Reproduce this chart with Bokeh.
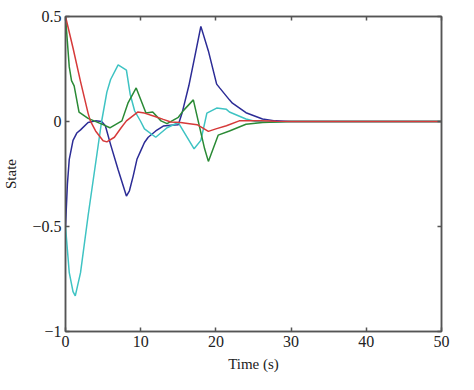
from bokeh.plotting import figure
from bokeh.models import Range1d, FixedTicker, LinearAxis
from bokeh.embed import file_html
from bokeh.resources import INLINE

# ---- data ----
t_blue = [0, 0.25, 0.5, 1, 1.5, 2, 3, 4, 4.8, 5.3, 6, 7, 8.1, 8.5, 9, 9.5, 10, 10.5, 11, 12, 13, 14, 15, 15.5,
          16.4, 17.2, 18, 19, 20.1, 20.5, 21.8, 22.2, 24, 26.2, 27.9, 30, 35, 50]
y_blue = [-0.5, -0.3, -0.18, -0.09, -0.055, -0.04, -0.005, 0.003, 0.0, -0.02, -0.11, -0.23, -0.355, -0.33, -0.26,
          -0.18, -0.14, -0.1, -0.075, -0.045, -0.022, -0.018, -0.015, 0.04,
          0.17, 0.31, 0.453, 0.336, 0.178, 0.16, 0.103, 0.087, 0.042, 0.012, 0.003, 0.0, 0.0, 0.0]

t_cyan = [0, 0.5, 1, 1.3, 2, 3, 4, 4.8, 5.5, 6, 7, 8.1, 8.6, 9.2, 10, 10.5, 12, 13.5, 15, 17.1, 18, 18.8, 20.1,
          21.4, 21.8, 24, 25.3, 27, 30, 50]
y_cyan = [-0.5, -0.72, -0.81, -0.83, -0.72, -0.45, -0.2, 0.0, 0.14, 0.2, 0.27, 0.245, 0.13, 0.05, 0.0, -0.035,
          -0.075, -0.03, -0.005, -0.13, -0.09, 0.04, 0.064, 0.058, 0.045, 0.012, 0.0, -0.003, 0.0, 0.0]

t_green = [0, 0.5, 0.8, 1.15, 1.8, 3, 3.8, 5, 5.9, 7.5, 8.3, 9.4, 10.7, 11.6, 12.7, 13.5, 15, 15.7, 17, 18.5,
           19, 20.3, 21.8, 24, 26.2, 28, 30, 50]
y_green = [0.5, 0.26, 0.195, 0.17, 0.045, 0.015, 0.003, -0.015, -0.03, 0.003, 0.087, 0.16, 0.04, 0.045, 0.003,
           -0.01, 0.02, 0.053, 0.103, -0.13, -0.19, -0.065, -0.045, -0.013, -0.005, -0.002, 0.0, 0.0]

t_red = [0, 1, 2, 3, 3.3, 4, 5, 5.5, 6.5, 7.4, 8.1, 9.6, 10.5, 11.8, 13, 14, 15.3, 16, 17.5, 19, 20, 21.4, 23.1,
         26, 28, 30, 50]
y_red = [0.5, 0.35, 0.19, 0.04, 0.003, -0.045, -0.092, -0.097, -0.075, -0.03, 0.003, 0.045, 0.04, 0.025, 0.01,
         -0.002, -0.005, -0.008, -0.015, -0.047, -0.035, -0.02, 0.003, 0.003, 0.001, 0.0, 0.0]

x_ticks = [0, 10, 20, 30, 40, 50]
y_ticks = [-1, -0.5, 0, 0.5]
y_tick_labels = {-1: "\u22121", -0.5: "\u22120.5", 0: "0", 0.5: "0.5"}

FONT = "Liberation Serif"
AXC = "#555555"

p = figure(width=458, height=374, output_backend="svg", toolbar_location=None,
           x_range=Range1d(0, 50), y_range=Range1d(-1, 0.5),
           min_border_left=58, min_border_right=17, min_border_top=16, min_border_bottom=40)
p.grid.visible = False
p.outline_line_color = AXC
p.outline_line_width = 1.5
p.background_fill_color = "white"
p.border_fill_color = "white"

p.line(t_blue, y_blue, line_color="#2c2c96", line_width=1.5)
p.line(t_cyan, y_cyan, line_color="#3ec3c3", line_width=1.5)
p.line(t_green, y_green, line_color="#2a8a35", line_width=1.5)
p.line(t_red, y_red, line_color="#d63a3a", line_width=1.5)

xa = p.xaxis[0]
xa.ticker = FixedTicker(ticks=x_ticks)
xa.axis_label = "Time (s)"
ya = p.yaxis[0]
ya.ticker = FixedTicker(ticks=y_ticks)
ya.major_label_overrides = y_tick_labels
ya.axis_label = "State"

for ax in (xa, ya):
    ax.axis_line_color = AXC
    ax.axis_line_width = 1.5
    ax.major_tick_line_color = AXC
    ax.major_tick_line_width = 1.5
    ax.major_tick_in = 4
    ax.major_tick_out = 0
    ax.minor_tick_line_color = None
    ax.major_label_text_font = FONT
    ax.major_label_text_font_size = "16px"
    ax.major_label_text_color = "#222222"
    ax.axis_label_text_font = FONT
    ax.axis_label_text_font_size = "15px"
    ax.axis_label_text_font_style = "normal"
    ax.axis_label_text_color = "#222222"
    ax.major_label_standoff = 4
xa.axis_label_standoff = 6
ya.axis_label_standoff = 10

top = LinearAxis(ticker=FixedTicker(ticks=x_ticks))
right = LinearAxis(ticker=FixedTicker(ticks=y_ticks))
for ax in (top, right):
    ax.axis_line_color = AXC
    ax.axis_line_width = 1.5
    ax.major_tick_line_color = AXC
    ax.major_tick_line_width = 1.5
    ax.major_tick_in = 4
    ax.major_tick_out = 0
    ax.minor_tick_line_color = None
    ax.major_label_text_font_size = "0px"
    ax.major_label_standoff = 0
p.add_layout(top, "above")
p.add_layout(right, "right")

open("out.html", "w").write(file_html(p, INLINE))
